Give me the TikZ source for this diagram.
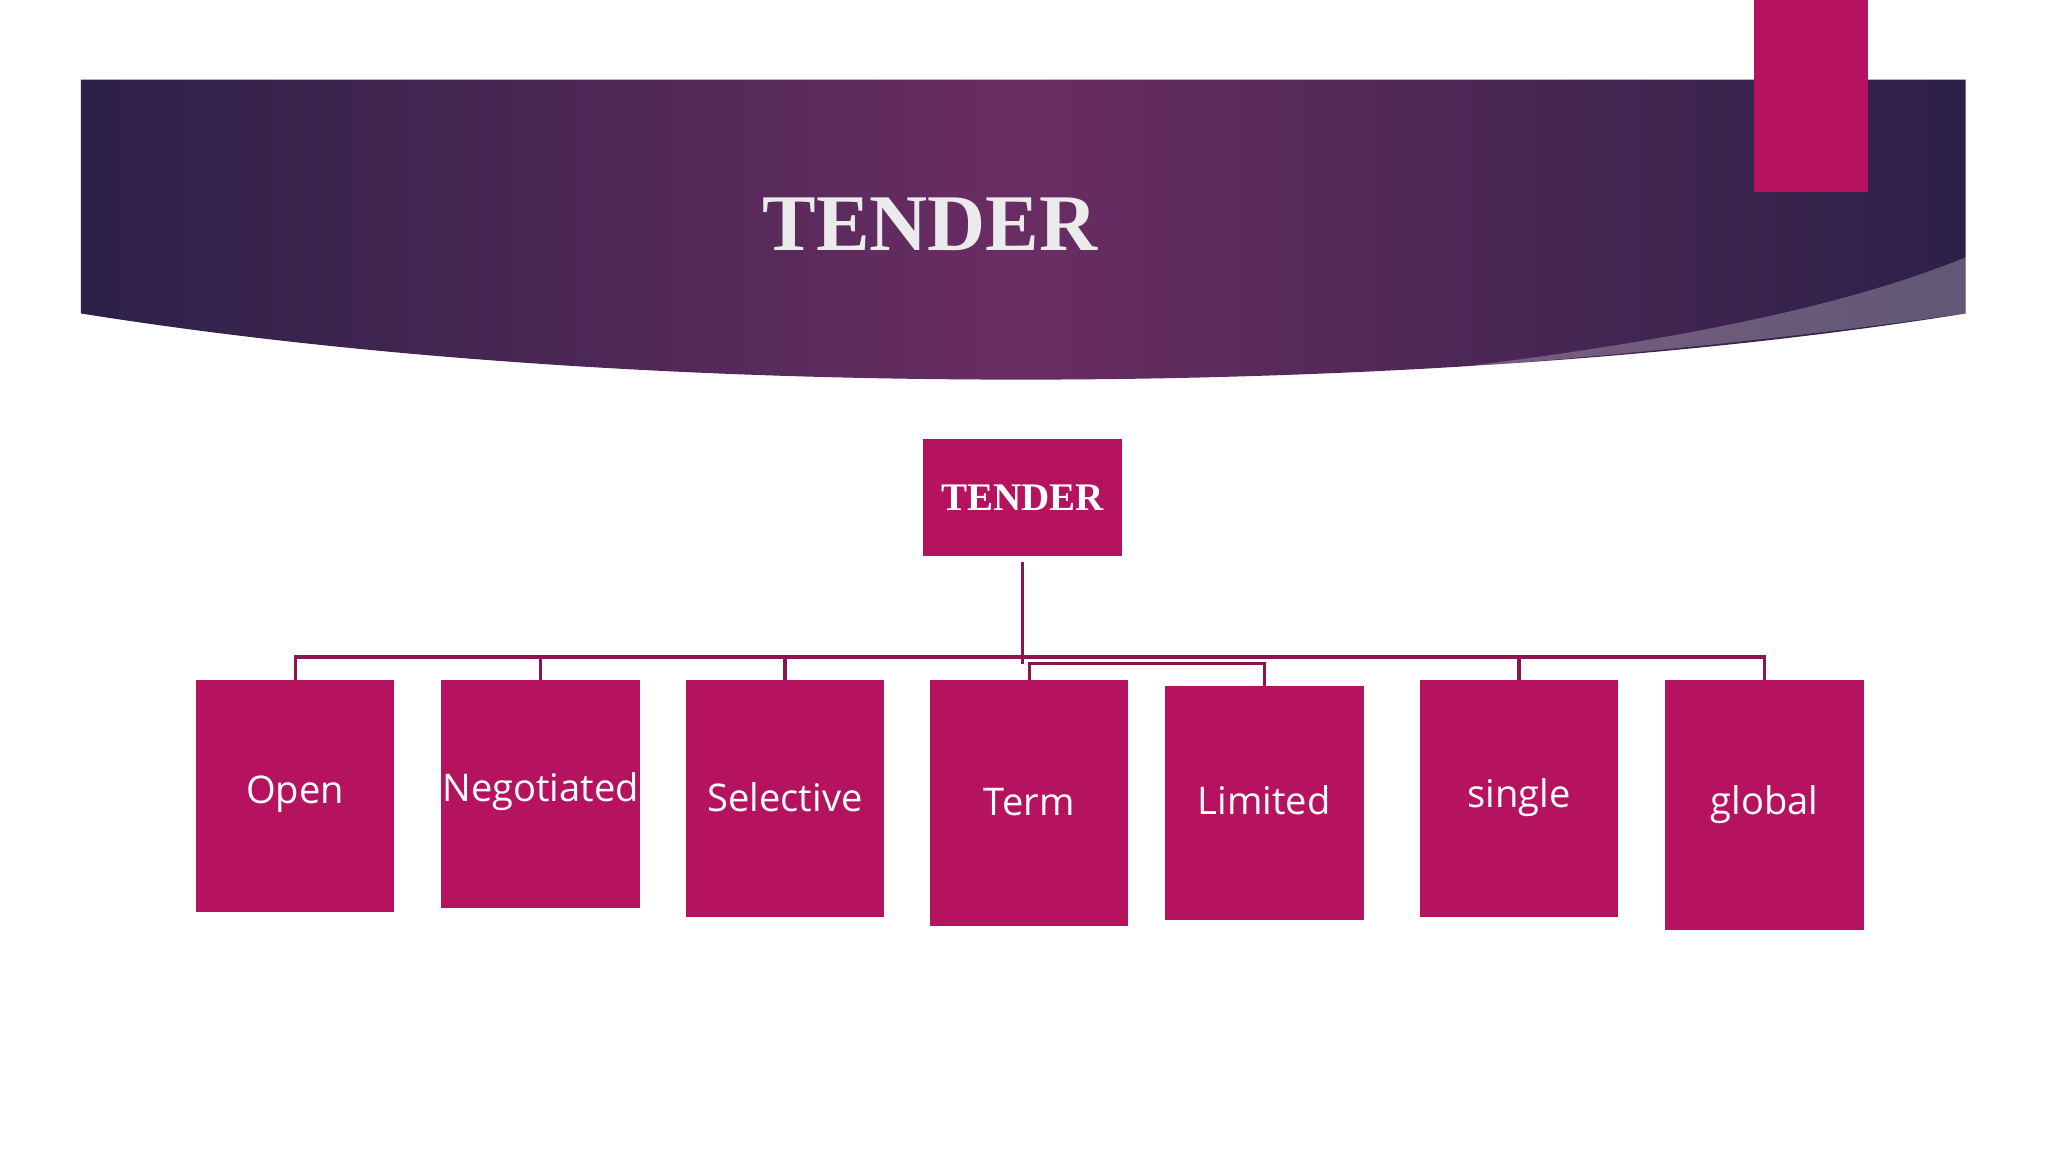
\documentclass[tikz,border=0pt]{standalone}
\usepackage{fontspec}
\setmainfont{Liberation Serif}
\newfontfamily\boxfont{Open Sans}
\definecolor{pinkb}{HTML}{B5135F}
\definecolor{darkp}{HTML}{2C2148}
\definecolor{midp}{HTML}{6A2D63}
\definecolor{linec}{HTML}{8A1550}
\begin{document}
\begin{tikzpicture}[x=0.01cm,y=-0.01cm,
  child/.style={text=white,inner sep=0pt,font=\boxfont\fontsize{8.3}{10}\selectfont},
  conn/.style={draw=linec,line width=0.7pt}]
\useasboundingbox (0,0) rectangle (1568,882);
\fill[white] (0,0) rectangle (1568,882);
% banner
\path[left color=darkp,right color=darkp,middle color=midp]
  (62,61) -- (1505,61) -- (1505,240) .. controls (1100,305) and (500,310) .. (62,240) -- cycle;
\fill[white,opacity=0.25] (1505,197) -- (1505,240) .. controls (1350,262) and (1200,275) .. (1110,282) .. controls (1250,265) and (1400,240) .. cycle;
\fill[pinkb] (1343,0) rectangle (1430,147);
\node[text=white!92!black,font=\fontsize{17.5}{20}\selectfont\bfseries] (title) at (712,172) {TENDER};
% root
\fill[pinkb] (707,336) rectangle (859,426);
\node[text=white,font=\fontsize{8.5}{10}\selectfont\bfseries] (root) at (783,381) {TENDER};
\coordinate (rb) at (783,430);
% children
\foreach \n/\xa/\ya/\xb/\yb in {o/150/521/302/698, n/338/521/490/695, s/525/521/677/702, t/712/521/864/709, l/892/525/1044/704, g1/1087/521/1239/702, g2/1275/521/1427/712}{
  \fill[pinkb] (\xa,\ya) rectangle (\xb,\yb);
  \coordinate (\n top) at ({(\xa+\xb)/2},\ya);
}
\node[child] (o) at (226,608) {Open};
\node[child] (n) at (414,606) {Negotiated};
\node[child] (s) at (601,610) {Selective};
\node[child] (t) at (788,614) {Term};
\node[child] (l) at (968,613) {Limited};
\node[child] (g1) at (1163,611) {single};
\node[child] (g2) at (1351,616) {global};
% connectors
\draw[conn] (rb) -- (783,503);
\draw[conn] (otop) -- (226,503) -- (1351,503) -- (g2top);
\foreach \c in {ntop,stop,g1top}{\draw[conn] (\c) -- (\c |- 0,503);}
\draw[conn] (ttop) -- (788,508) -- (968,508) -- (ltop);
\draw[conn] (783,503) -- (783,508);
\end{tikzpicture}
\end{document}
